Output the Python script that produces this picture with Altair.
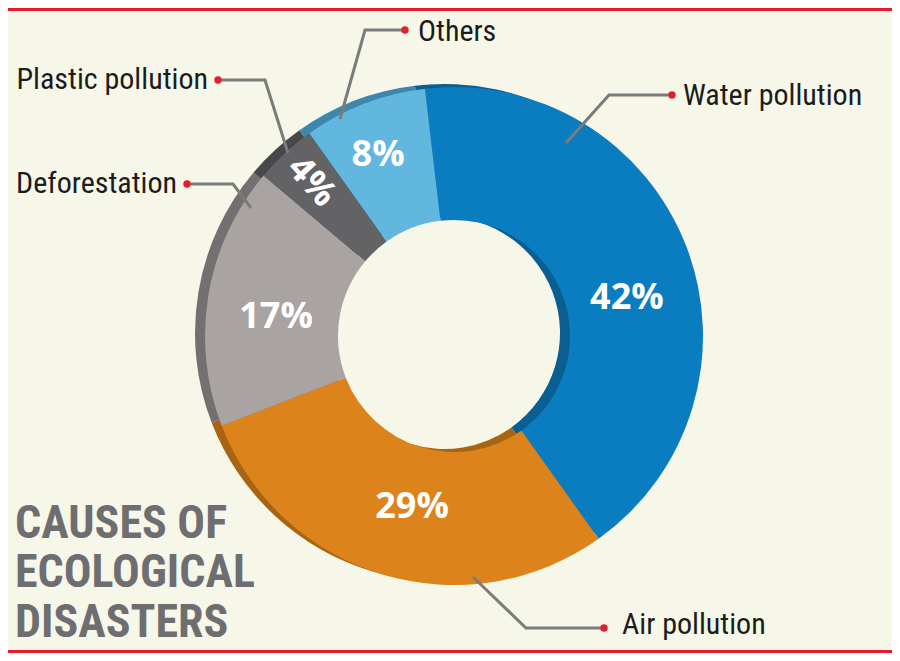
import math
import altair as alt
import pandas as pd

# ---------------- data ----------------
categories = ["Water pollution", "Air pollution", "Deforestation", "Plastic pollution", "Others"]
values = [42, 29, 17, 4, 8]
pct_labels = ["42%", "29%", "17%", "4%", "8%"]
title_lines = ["CAUSES OF", "ECOLOGICAL", "DISASTERS"]

# ---------------- styles / layout ----------------
front_colors = ["#0a7cc0", "#dd831c", "#a9a3a1", "#636264", "#62b7df"]
back_colors = ["#0b5e91", "#a86313", "#737071", "#48484a", "#3d87ad"]
BG = "#f7f7e9"
W, H = 884, 645
CX, CY = 446, 328          # front ring centre (chart px)
BX, BY = 436, 325          # back ("depth") ring centre
R_OUT, R_IN = 249, 116
START_DEG = -6.7
start_rad = math.radians(START_DEG)

pct_nudge = [8.7, -2.9, -3.4, 0.0, -1.7]
pct_radius = [177, 176, 179, 210, 196]
pct_rot = [0, 0, 0, 48, 0]

leader_pts = [
    [(558, 135), (601, 87), (664, 87)],
    [(465, 569), (518, 620), (596, 620)],
    [(243, 200), (225, 176), (179, 176)],
    [(280, 145), (257, 72), (210, 72)],
    [(332, 111), (357, 22), (397, 22)],
]
label_pos = [(675, 88, "left"), (614, 617, "left"), (169, 176, "right"),
             (200, 72, "right"), (410, 24, "left")]
title_x = 7
title_baselines = [530, 579, 629]

LABEL_FONT = "Roboto Condensed, Open Sans Condensed, DejaVu Sans Condensed, Roboto"
TITLE_FONT = "Roboto Condensed, Open Sans Condensed, DejaVu Sans Condensed, Roboto"

# ---------------- tables ----------------
df = pd.DataFrame({"cat": categories, "value": values, "idx": list(range(len(values)))})

cum = 0
rows = []
for i, v in enumerate(values):
    mid = START_DEG + (cum + v / 2) * 3.6 + pct_nudge[i]
    cum += v
    a = math.radians(mid)
    rows.append({"cat": categories[i], "label": pct_labels[i],
                 "x": CX + pct_radius[i] * math.sin(a),
                 "y": CY - pct_radius[i] * math.cos(a),
                 "rot": pct_rot[i]})
pct_df = pd.DataFrame(rows)

line_rows = []
for c, pts in zip(categories, leader_pts):
    for s, (x, y) in enumerate(pts):
        line_rows.append({"cat": c, "step": s, "x": x, "y": y})
line_df = pd.DataFrame(line_rows)
dot_df = pd.DataFrame([{"cat": c, "x": p[-1][0], "y": p[-1][1]} for c, p in zip(categories, leader_pts)])
lab_df = pd.DataFrame([{"cat": c, "x": lp[0], "y": lp[1], "align": lp[2]} for c, lp in zip(categories, label_pos)])
title_df = pd.DataFrame({"t": title_lines, "x": [title_x] * 3, "y": title_baselines})

theta_scale = alt.Scale(domain=[0, 100], range=[start_rad, start_rad + 2 * math.pi])


def ring(cx, cy, colors):
    return alt.Chart(df).mark_arc(outerRadius=R_OUT, innerRadius=R_IN).encode(
        theta=alt.Theta("value:Q", stack=True, scale=theta_scale),
        color=alt.Color("cat:N", scale=alt.Scale(domain=categories, range=colors), legend=None),
        order=alt.Order("idx:Q"),
        x=alt.value(cx), y=alt.value(cy),
    )


back = ring(BX, BY, back_colors)
front = ring(CX, CY, front_colors)

top_bar = alt.Chart(pd.DataFrame({"p": [0]})).mark_rect(color="#e8192c").encode(
    x=alt.value(0), x2=alt.value(W), y=alt.value(0), y2=alt.value(3))
bot_bar = alt.Chart(pd.DataFrame({"p": [0]})).mark_rect(color="#e8192c").encode(
    x=alt.value(0), x2=alt.value(W), y=alt.value(H - 3), y2=alt.value(H))

pct = alt.Chart(pct_df).mark_text(font="Open Sans", fontWeight="bold", fontSize=36,
                                  color="white", align="center", baseline="middle").encode(
    x=alt.X("x:Q", scale=None, axis=None),
    y=alt.Y("y:Q", scale=None, axis=None),
    text="label:N",
    angle=alt.Angle("rot:Q", scale=None),
)

lines = alt.Chart(line_df).mark_line(color="#7b7b7b", strokeWidth=3).encode(
    x=alt.X("x:Q", scale=None, axis=None),
    y=alt.Y("y:Q", scale=None, axis=None),
    detail="cat:N", order="step:Q",
)
dots = alt.Chart(dot_df).mark_circle(color="#e41e2b", size=55, opacity=1).encode(
    x=alt.X("x:Q", scale=None, axis=None),
    y=alt.Y("y:Q", scale=None, axis=None),
)

lab_left = alt.Chart(lab_df[lab_df["align"] == "left"]).mark_text(
    font=LABEL_FONT, fontWeight="normal", fontSize=30, color="#1c1c1c", align="left", baseline="middle").encode(
    x=alt.X("x:Q", scale=None, axis=None), y=alt.Y("y:Q", scale=None, axis=None), text="cat:N")
lab_right = alt.Chart(lab_df[lab_df["align"] == "right"]).mark_text(
    font=LABEL_FONT, fontWeight="normal", fontSize=30, color="#1c1c1c", align="right", baseline="middle").encode(
    x=alt.X("x:Q", scale=None, axis=None), y=alt.Y("y:Q", scale=None, axis=None), text="cat:N")

title = alt.Chart(title_df).mark_text(
    font=TITLE_FONT, fontWeight="bold", fontSize=46, color="#6e6e71",
    align="left", baseline="alphabetic").encode(
    x=alt.X("x:Q", scale=None, axis=None), y=alt.Y("y:Q", scale=None, axis=None), text="t:N")

chart = alt.layer(top_bar, bot_bar, back, front, lines, dots, pct, lab_left, lab_right, title).resolve_scale(
    color="independent"
).properties(
    width=W, height=H, padding=0, autosize="none", background=BG
).configure_view(stroke=None)

chart.save("out.html", embed_options={"renderer": "svg", "actions": False})
